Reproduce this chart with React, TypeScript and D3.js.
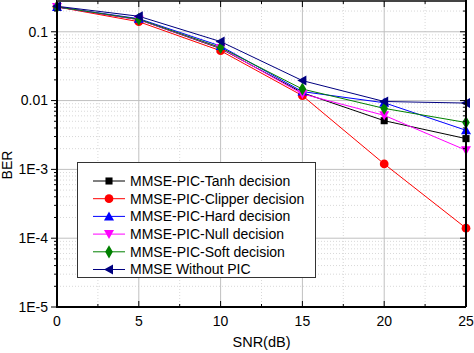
import React, { useEffect, useRef } from "react"
import * as d3 from "d3"

const snr = [0, 5, 10, 15, 20, 25]
const tanh = [0.23, 0.15, 0.057, 0.013, 0.0051, 0.0028]
const clipper = [0.23, 0.14, 0.053, 0.0118, 0.0012, 0.00014]
const hard = [0.23, 0.155, 0.062, 0.0135, 0.0093, 0.0037]
const nullDec = [0.23, 0.15, 0.058, 0.0125, 0.0061, 0.0019]
const soft = [0.23, 0.152, 0.059, 0.0147, 0.0077, 0.0048]
const noPic = [0.235, 0.168, 0.072, 0.0195, 0.0097, 0.0092]

const seriesNames = [
  "MMSE-PIC-Tanh decision",
  "MMSE-PIC-Clipper decision",
  "MMSE-PIC-Hard decision",
  "MMSE-PIC-Null decision",
  "MMSE-PIC-Soft decision",
  "MMSE Without PIC",
]
const yTickLabels = ["1E-5", "1E-4", "1E-3", "0.01", "0.1"]

const W = 474
const H = 353

export default function App() {
  const ref = useRef<SVGSVGElement>(null)

  useEffect(() => {
    const svg = d3.select(ref.current)
    svg.selectAll("*").remove()

    const m = { left: 57, right: 8, top: 1, bottom: 46 }
    const x = d3.scaleLinear().domain([0, 25]).range([m.left, W - m.right])
    const y = d3.scaleLog().domain([1e-5, 0.28]).range([H - m.bottom, m.top])
    const font = "Arial, 'Liberation Sans', sans-serif"

    const series = [
      { name: seriesNames[0], values: tanh, color: "#000000", shape: "square" },
      { name: seriesNames[1], values: clipper, color: "#ff0000", shape: "circle" },
      { name: seriesNames[2], values: hard, color: "#0000ff", shape: "up" },
      { name: seriesNames[3], values: nullDec, color: "#ff00ff", shape: "down" },
      { name: seriesNames[4], values: soft, color: "#008000", shape: "diamond" },
      { name: seriesNames[5], values: noPic, color: "#000080", shape: "left" },
    ]

    const sym = (shape: string) => {
      if (shape === "square") return d3.symbol(d3.symbolSquare, 50)()
      if (shape === "circle") return d3.symbol(d3.symbolCircle, 60)()
      if (shape === "diamond") return d3.symbol(d3.symbolDiamond, 50)()
      // triangles
      const s = 5
      const pts =
        shape === "up"
          ? [[0, -s], [s, s * 0.8], [-s, s * 0.8]]
          : shape === "down"
          ? [[0, s], [s, -s * 0.8], [-s, -s * 0.8]]
          : [[-s, 0], [s * 0.8, -s], [s * 0.8, s]]
      return "M" + pts.map(p => p.join(",")).join("L") + "Z"
    }

    const decades = [1e-5, 1e-4, 1e-3, 1e-2, 1e-1]
    const minors: number[] = []
    decades.forEach(d => {
      for (let k = 2; k <= 9; k++) if (d * k <= 0.28) minors.push(d * k)
    })
    const xMajors = [0, 5, 10, 15, 20, 25]
    const xMinors = [2.5, 7.5, 12.5, 17.5, 22.5]

    const grid = svg.append("g")
    grid.selectAll(".hm").data(minors).join("line")
      .attr("x1", m.left).attr("x2", W - m.right)
      .attr("y1", d => y(d)).attr("y2", d => y(d))
      .attr("stroke", "#d8d8d8").attr("stroke-dasharray", "1,2")
    grid.selectAll(".vm").data(xMinors).join("line")
      .attr("x1", d => x(d)).attr("x2", d => x(d))
      .attr("y1", m.top).attr("y2", H - m.bottom)
      .attr("stroke", "#d8d8d8").attr("stroke-dasharray", "1,2")
    grid.selectAll(".hM").data(decades.slice(1)).join("line")
      .attr("x1", m.left).attr("x2", W - m.right)
      .attr("y1", d => y(d)).attr("y2", d => y(d))
      .attr("stroke", "#c0c0c0")
    grid.selectAll(".vM").data(xMajors.slice(1, -1)).join("line")
      .attr("x1", d => x(d)).attr("x2", d => x(d))
      .attr("y1", m.top).attr("y2", H - m.bottom)
      .attr("stroke", "#c0c0c0")

    // series
    const line = d3.line<number>().x((d, i) => x(snr[i])).y(d => y(d))
    series.forEach(s => {
      svg.append("path").attr("d", line(s.values)).attr("fill", "none")
        .attr("stroke", s.color).attr("stroke-width", 1)
    })
    series.forEach(s => {
      svg.append("g").selectAll("path").data(s.values).join("path")
        .attr("d", sym(s.shape))
        .attr("transform", (d, i) => `translate(${x(snr[i])},${y(d)})`)
        .attr("fill", s.color)
    })

    // axes
    const ax = svg.append("g").attr("stroke", "#000")
    ax.append("line").attr("x1", m.left).attr("x2", m.left).attr("y1", 0).attr("y2", H - m.bottom + 1).attr("stroke-width", 2)
    ax.append("line").attr("x1", m.left - 1).attr("x2", W - m.right).attr("y1", H - m.bottom).attr("y2", H - m.bottom).attr("stroke-width", 2)
    ax.append("line").attr("x1", m.left).attr("x2", W - m.right).attr("y1", 1).attr("y2", 1).attr("stroke-width", 2).attr("stroke", "#444")
    ax.append("line").attr("x1", W - m.right).attr("x2", W - m.right).attr("y1", 0).attr("y2", H - m.bottom).attr("stroke-width", 2)

    ax.selectAll(".ytM").data(decades).join("line")
      .attr("x1", m.left - 6).attr("x2", m.left).attr("y1", d => y(d)).attr("y2", d => y(d))
    ax.selectAll(".ytm").data(minors).join("line")
      .attr("x1", m.left - 3).attr("x2", m.left).attr("y1", d => y(d)).attr("y2", d => y(d))
    ax.selectAll(".yrM").data(decades).join("line")
      .attr("x1", W - m.right - 6).attr("x2", W - m.right).attr("y1", d => y(d)).attr("y2", d => y(d))
    ax.selectAll(".yrm").data(minors).join("line")
      .attr("x1", W - m.right - 3).attr("x2", W - m.right).attr("y1", d => y(d)).attr("y2", d => y(d))
    ax.selectAll(".xb").data(xMajors).join("line")
      .attr("x1", d => x(d)).attr("x2", d => x(d)).attr("y1", H - m.bottom).attr("y2", H - m.bottom - 6)
    ax.selectAll(".xbm").data(xMinors).join("line")
      .attr("x1", d => x(d)).attr("x2", d => x(d)).attr("y1", H - m.bottom).attr("y2", H - m.bottom - 3)
    ax.selectAll(".xt").data(xMajors).join("line")
      .attr("x1", d => x(d)).attr("x2", d => x(d)).attr("y1", 1).attr("y2", 7)
    ax.selectAll(".xtm").data(xMinors).join("line")
      .attr("x1", d => x(d)).attr("x2", d => x(d)).attr("y1", 1).attr("y2", 4)

    svg.append("g").selectAll("text").data(decades).join("text")
      .attr("x", m.left - 9).attr("y", d => y(d)).attr("dy", "0.35em")
      .attr("text-anchor", "end").attr("font-family", font).attr("font-size", 14)
      .text((d, i) => yTickLabels[i])
    svg.append("g").selectAll("text").data(xMajors).join("text")
      .attr("x", d => x(d)).attr("y", H - m.bottom + 19)
      .attr("text-anchor", "middle").attr("font-family", font).attr("font-size", 14)
      .text(d => String(d))

    svg.append("text").attr("transform", `translate(12,165) rotate(-90)`)
      .attr("text-anchor", "middle").attr("font-family", font).attr("font-size", 14).text("BER")
    svg.append("text").attr("x", (m.left + W - m.right) / 2).attr("y", H - 6)
      .attr("text-anchor", "middle").attr("font-family", font).attr("font-size", 14.5).text("SNR(dB)")

    // legend
    const lg = svg.append("g")
    lg.append("rect").attr("x", 77.5).attr("y", 162.5).attr("width", 238).attr("height", 115)
      .attr("fill", "#fff").attr("stroke", "#333")
    series.forEach((s, i) => {
      const yy = 181 + i * 17.7
      lg.append("line").attr("x1", 93).attr("x2", 125).attr("y1", yy).attr("y2", yy).attr("stroke", s.color)
      lg.append("path").attr("d", sym(s.shape)).attr("transform", `translate(109,${yy})`).attr("fill", s.color)
      lg.append("text").attr("x", 130).attr("y", yy).attr("dy", "0.35em")
        .attr("font-family", font).attr("font-size", 14).text(s.name)
    })
  }, [])

  return (
    <svg ref={ref} width={W} height={H}
      style={{ position: "absolute", left: 0, top: 0, background: "#fff" }} />
  )
}
